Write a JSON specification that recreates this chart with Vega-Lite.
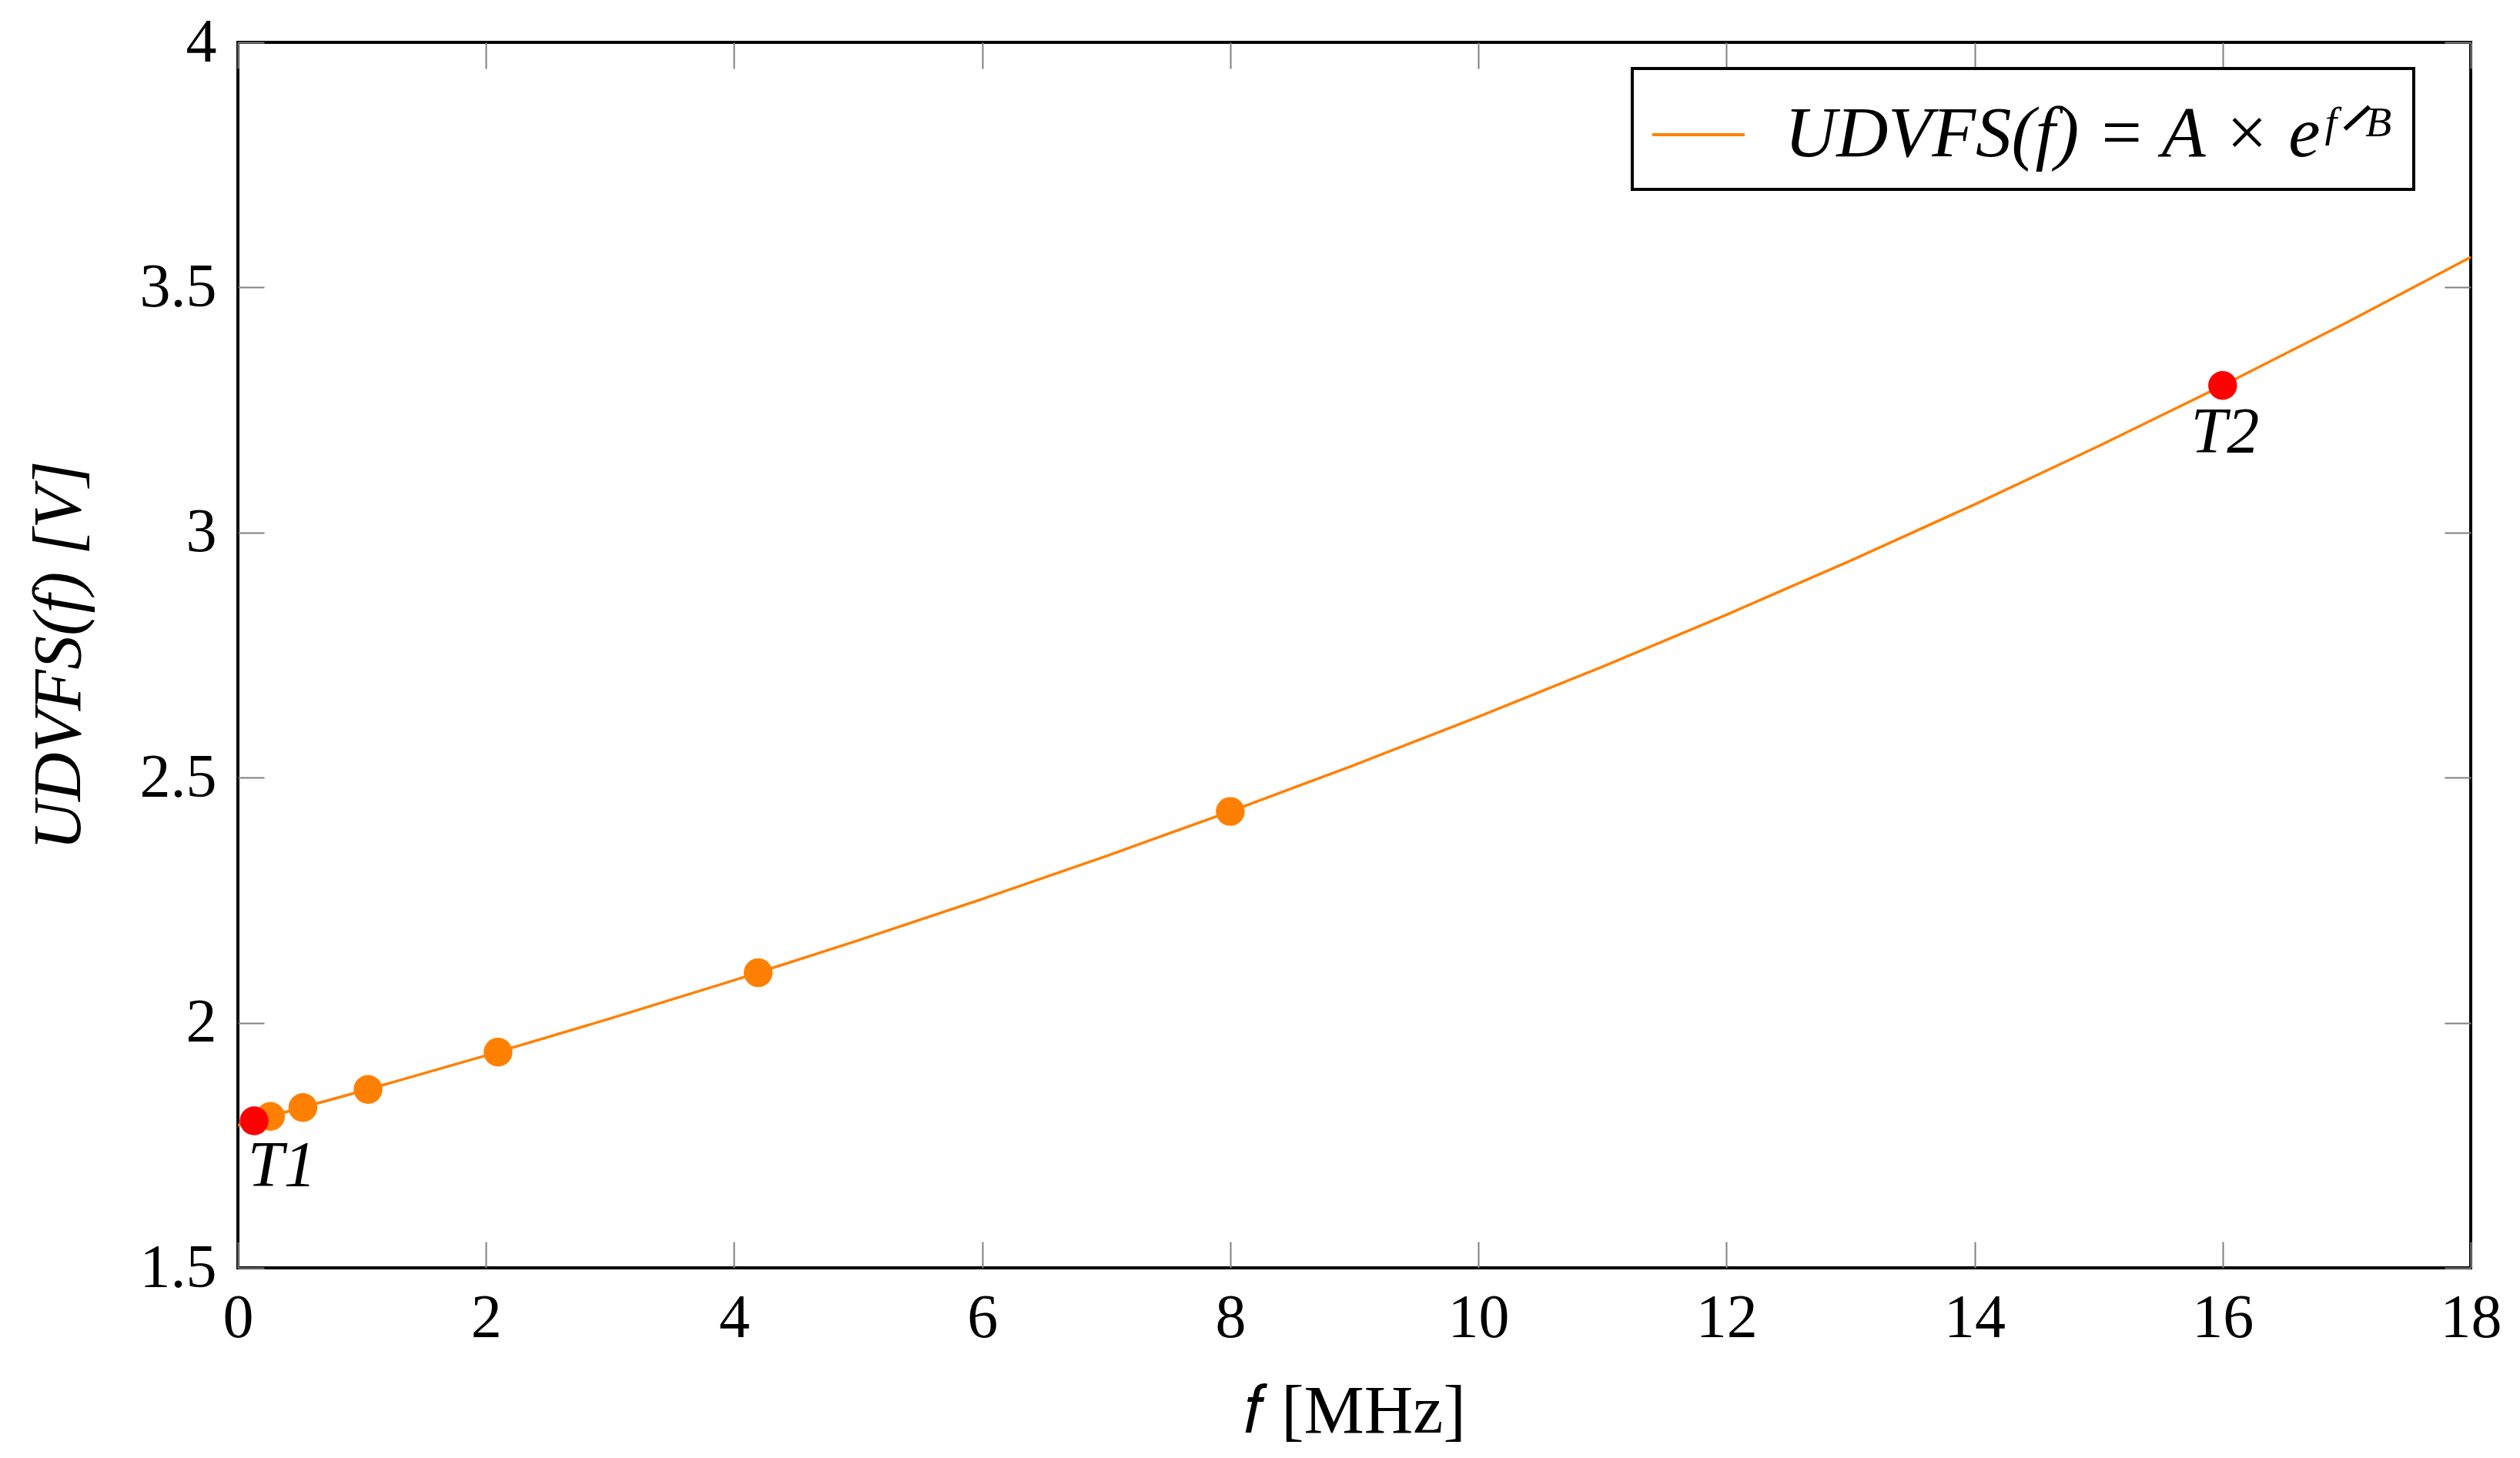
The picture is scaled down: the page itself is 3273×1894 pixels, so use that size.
{
  "$schema": "https://vega.github.io/schema/vega-lite/v6.json",
  "width": 2900,
  "height": 1592,
  "autosize": {"type": "none"},
  "padding": {"left": 309, "top": 55, "right": 64, "bottom": 247},
  "background": "white",
  "datasets": {
    "curve": [
      {"f": 0, "U": 1.791},
      {"f": 1, "U": 1.8607},
      {"f": 2, "U": 1.9332},
      {"f": 3, "U": 2.0085},
      {"f": 4, "U": 2.0867},
      {"f": 5, "U": 2.1679},
      {"f": 6, "U": 2.2523},
      {"f": 7, "U": 2.34},
      {"f": 8, "U": 2.4311},
      {"f": 9, "U": 2.5258},
      {"f": 10, "U": 2.6241},
      {"f": 11, "U": 2.7263},
      {"f": 12, "U": 2.8324},
      {"f": 13, "U": 2.9427},
      {"f": 14, "U": 3.0573},
      {"f": 15, "U": 3.1763},
      {"f": 16, "U": 3.3},
      {"f": 17, "U": 3.4284},
      {"f": 18, "U": 3.5619}
    ],
    "points": [
      {"f": 0.262, "U": 1.809, "kind": "mid", "label": ""},
      {"f": 0.524, "U": 1.827, "kind": "mid", "label": ""},
      {"f": 1.049, "U": 1.864, "kind": "mid", "label": ""},
      {"f": 2.097, "U": 1.94, "kind": "mid", "label": ""},
      {"f": 4.194, "U": 2.102, "kind": "mid", "label": ""},
      {"f": 8, "U": 2.431, "kind": "mid", "label": ""},
      {"f": 0.131, "U": 1.8, "kind": "end", "label": "T1"},
      {"f": 16, "U": 3.3, "kind": "end", "label": "T2"}
    ]
  },
  "layer": [
    {
      "data": {"name": "curve"},
      "mark": {"type": "line", "interpolate": "monotone", "strokeWidth": 3.5, "clip": true},
      "encoding": {
        "x": {
          "field": "f", "type": "quantitative",
          "scale": {"domain": [0, 18], "nice": false, "zero": false},
          "axis": {
            "orient": "bottom", "values": [0, 2, 4, 6, 8, 10, 12, 14, 16, 18],
            "title": "𝑓 [MHz]", "labelPadding": 60, "titlePadding": 38, "titleFontSize": 88,
            "labelFlush": false, "labelOverlap": false
          }
        },
        "y": {
          "field": "U", "type": "quantitative",
          "scale": {"domain": [1.5, 4], "nice": false, "zero": false},
          "axis": {
            "orient": "left", "values": [1.5, 2, 2.5, 3, 3.5, 4], "format": "~g",
            "title": "UDVFS(f) [V]", "titleFontSize": 88, "titleFontStyle": "italic",
            "labelPadding": 62, "titlePadding": 60,
            "labelFlush": false, "labelOverlap": false
          }
        },
        "color": {
          "datum": "UDVFS(f) = A × eᶠᐟᴮ",
          "type": "nominal",
          "scale": {"range": ["#FF8000"]},
          "legend": {
            "orient": "none", "legendX": 1811, "legendY": 34,
            "title": null, "strokeColor": "black",
            "fillColor": "white", "padding": 24,
            "labelFontSize": 93, "labelFont": "Liberation Serif",
            "labelFontStyle": "italic", "labelColor": "black",
            "labelLimit": 3000, "labelOffset": 50,
            "symbolType": "stroke", "symbolSize": 14400, "symbolStrokeWidth": 4
          }
        }
      }
    },
    {
      "data": {"name": "points"},
      "mark": {"type": "point", "filled": true, "size": 1400, "opacity": 1, "strokeWidth": 0},
      "encoding": {
        "x": {
          "field": "f", "type": "quantitative",
          "axis": {"orient": "top", "values": [0, 2, 4, 6, 8, 10, 12, 14, 16, 18], "labels": false, "title": null}
        },
        "y": {
          "field": "U", "type": "quantitative",
          "axis": {"orient": "right", "values": [1.5, 2, 2.5, 3, 3.5, 4], "labels": false, "title": null}
        },
        "fill": {
          "field": "kind", "type": "nominal",
          "scale": {"domain": ["mid", "end"], "range": ["#FF8000", "#FF0000"]},
          "legend": null
        }
      }
    },
    {
      "data": {"name": "points"},
      "transform": [{"filter": "datum.kind == 'end' && datum.f < 1"}],
      "mark": {"type": "text", "fontSize": 84, "font": "Liberation Serif", "fontStyle": "italic", "dx": 36, "dy": 60, "baseline": "middle", "align": "center", "color": "black"},
      "encoding": {
        "x": {"field": "f", "type": "quantitative", "axis": null},
        "y": {"field": "U", "type": "quantitative", "axis": null},
        "text": {"field": "label"}
      }
    },
    {
      "data": {"name": "points"},
      "transform": [{"filter": "datum.kind == 'end' && datum.f > 1"}],
      "mark": {"type": "text", "fontSize": 84, "font": "Liberation Serif", "fontStyle": "italic", "dx": 3, "dy": 62, "baseline": "middle", "align": "center", "color": "black"},
      "encoding": {
        "x": {"field": "f", "type": "quantitative", "axis": null},
        "y": {"field": "U", "type": "quantitative", "axis": null},
        "text": {"field": "label"}
      }
    }
  ],
  "resolve": {"axis": {"x": "independent", "y": "independent"}},
  "config": {
    "font": "Liberation Serif",
    "view": {"stroke": "black", "strokeWidth": 4},
    "legend": {"strokeWidth": 4},
    "axis": {
      "grid": false, "domain": false,
      "tickColor": "#808080", "tickWidth": 2, "tickSize": -34,
      "labelFont": "Liberation Serif", "labelFontSize": 80, "labelColor": "black",
      "titleFont": "Liberation Serif", "titleFontSize": 80, "titleFontWeight": "normal", "titleColor": "black"
    }
  }
}
